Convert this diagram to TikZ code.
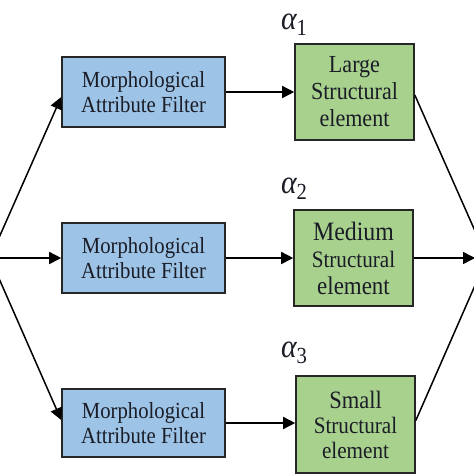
\documentclass[tikz,border=0pt]{standalone}
\usepackage{fontspec}
\setmainfont{Liberation Serif}[FakeStretch=0.9]
\usetikzlibrary{arrows.meta,calc}
\definecolor{mablue}{HTML}{9DC3E6}
\definecolor{magreen}{HTML}{A9D18E}
\definecolor{txt}{HTML}{1A1C26}
\newcommand{\alab}[1]{{\fontsize{33}{33}\selectfont\itshape α}\raisebox{-6pt}{\fontsize{23}{23}\selectfont #1}}
\tikzset{
  blk/.style={draw=black!85, line width=1.6pt, minimum width=163pt, minimum height=70pt,
    fill=mablue, align=center, inner sep=0pt, text=txt, font=\fontsize{23}{25}\selectfont},
  grn/.style={draw=black!85, line width=1.6pt, minimum width=119pt, minimum height=96pt,
    fill=magreen, align=center, inner sep=0pt, text=txt},
  arr/.style={-{Triangle[length=12pt,width=12pt]}, line width=1.5pt, draw=black},
  lin/.style={line width=1.5pt, draw=black},
  alabel/.style={inner sep=0pt, text=txt}
}
\begin{document}
\begin{tikzpicture}[x=1pt,y=-1pt]
\useasboundingbox (0,0) rectangle (474,474);
\clip (0,0) rectangle (474,474);
\fill[white] (0,0) rectangle (474,474);

\coordinate (src) at (-10,258);
\coordinate (dst) at (487,258);
\coordinate (dstin) at (475,258);

\node[blk] (b1) at (143.5,92) {Morphological\\Attribute Filter};
\node[blk] (b2) at (143.5,258) {Morphological\\Attribute Filter};
\node[blk, minimum height=68pt] (b3) at (143.5,423) {Morphological\\Attribute Filter};

\node[grn, font=\fontsize{24.5}{27}\selectfont] (g1) at (354.5,92) {Large\\Structural\\element};
\node[grn, font=\fontsize{24}{27}\selectfont] (g2) at (353.5,258) {{\fontsize{26.5}{27}\selectfont Medium}\\{\fontsize{23.5}{27}\selectfont Structural}\\{\fontsize{25.5}{27}\selectfont element}};
\node[grn, minimum height=97pt, font=\fontsize{23.5}{25}\selectfont] (g3) at (355.5,424.5) {{\fontsize{25}{25}\selectfont Small}\\Structural\\element};

\node[alabel] (a1) at (294,25) {\alab{1}};
\node[alabel] (a2) at (294,189) {\alab{2}};
\node[alabel] (a3) at (294,353) {\alab{3}};

\draw[arr] (src) -- ($(b1.west)+(0,5)$);
\draw[arr] (src) -- (b2.west);
\draw[arr] (src) -- ($(b3.west)+(0,-3)$);

\draw[arr] (b1.east) -- (b1.east -| g1.west);
\draw[arr] (b2.east) -- (g2.west);
\draw[arr] (b3.east) -- (b3.east -| g3.west);

\draw[lin] ($(g1.east)+(0,3)$) -- (dst);
\draw[arr] (g2.east) -- (dstin);
\draw[lin] ($(g3.east)+(0,-4)$) -- (dst);
\end{tikzpicture}
\end{document}
